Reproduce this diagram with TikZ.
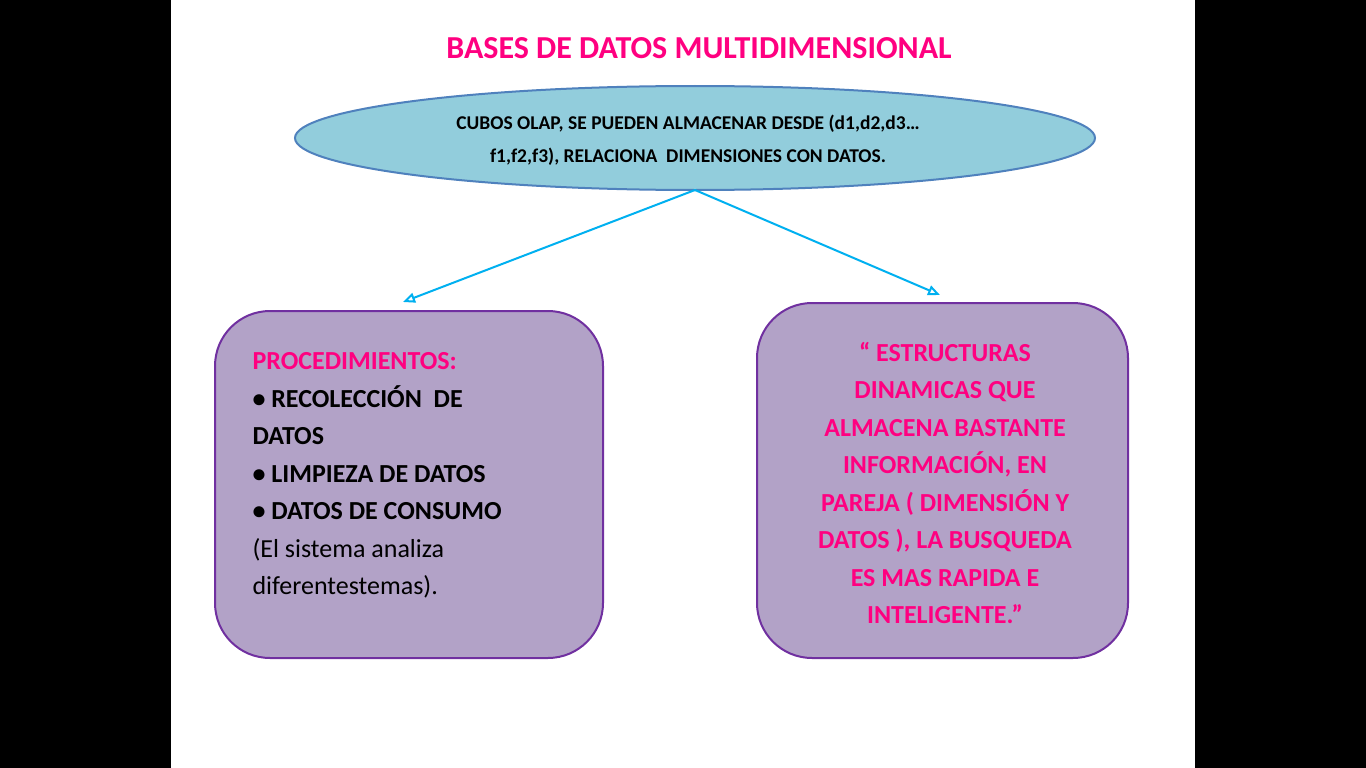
\documentclass[tikz,border=0pt]{standalone}
\usepackage{fontspec}
\setmainfont{Carlito}
\usetikzlibrary{shapes.geometric,arrows.meta}
\definecolor{pinkt}{HTML}{FF0080}
\definecolor{ellf}{HTML}{92CDDC}
\definecolor{elld}{HTML}{4F81BD}
\definecolor{boxf}{HTML}{B2A2C7}
\definecolor{boxd}{HTML}{7030A0}
\definecolor{arr}{HTML}{00B0F0}
\tikzset{
 box/.style={draw=boxd,line width=2pt,fill=boxf,rounded corners=55pt,minimum width=#1},
 link/.style={arr,line width=2pt,-{Stealth[length=12pt,width=10pt,inset=0pt,open]}},
 bodytext/.style={font=\fontsize{26pt}{37.5pt}\selectfont\bfseries}
}
\begin{document}
\begin{tikzpicture}[x=1pt,y=-1pt]
\useasboundingbox (0,0) rectangle (1366,768);
\fill[black] (0,0) rectangle (1366,768);
\fill[white] (171,0) rectangle (1195,768);
\node[text=pinkt,font=\fontsize{32pt}{36pt}\selectfont\bfseries] (title) at (699,48) {BASES DE DATOS MULTIDIMENSIONAL};
\node[ellipse,draw=elld,line width=2pt,fill=ellf,minimum width=800pt,minimum height=104pt,inner sep=0pt] (ell) at (695,138) {};
\node[align=center,font=\fontsize{19.5pt}{33pt}\selectfont\bfseries] (elltext) at (688,140) {CUBOS OLAP, SE PUEDEN ALMACENAR DESDE (d1,d2,d3…\\ f1,f2,f3), RELACIONA\ \ DIMENSIONES CON DATOS.};
\node[box=388pt,minimum height=347pt] (left) at (409,484.5) {};
\node[box=371pt,minimum height=355pt] (right) at (942.5,480.5) {};
\coordinate (ls) at (695,190);
\coordinate (la) at (403,302);
\coordinate (ra) at (940,295);
\draw[link] (ls) -- (la);
\draw[link] (ls) -- (ra);
\node[anchor=north west,align=left,bodytext] (lt) at (249,349) {\textcolor{pinkt}{PROCEDIMIENTOS:}\\ • RECOLECCIÓN\ \ DE\\ DATOS\\ • LIMPIEZA\ DE DATOS\\ • DATOS DE CONSUMO\\ \mdseries(El sistema analiza\\ \mdseries diferentestemas).};
\node[align=center,text=pinkt,bodytext] (rt) at (945,483) {“ ESTRUCTURAS\\ DINAMICAS QUE\\ ALMACENA BASTANTE\\ INFORMACIÓN, EN\\ PAREJA ( DIMENSIÓN Y\\ DATOS ), LA BUSQUEDA\\ ES MAS RAPIDA E\\ INTELIGENTE.”};
\end{tikzpicture}
\end{document}
